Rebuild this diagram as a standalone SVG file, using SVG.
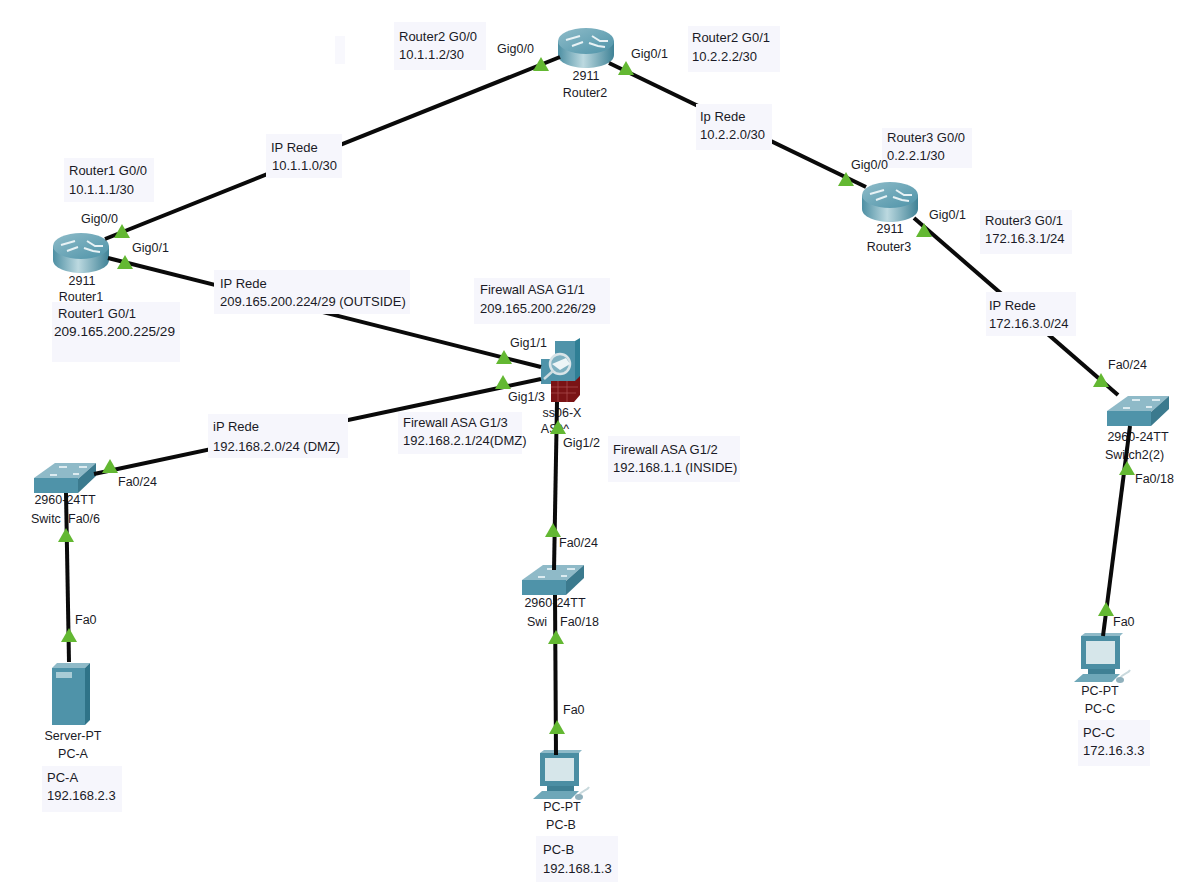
<svg xmlns="http://www.w3.org/2000/svg" width="1200" height="892" viewBox="0 0 1200 892">
<style>
text{font-family:"Liberation Sans",Arial,sans-serif;font-size:12.5px;fill:#1a1a26}
#labels text{font-size:13px}
.box{fill:#f6f6fc}
.c{text-anchor:middle}
.link{stroke:#0a0a0a;stroke-width:4;fill:none;stroke-linecap:butt}
.tri{fill:#63b832}
</style>
<defs>
<linearGradient id="rg" x1="0" x2="1" y1="0" y2="0"><stop offset="0" stop-color="#4d8fa3"/><stop offset=".45" stop-color="#bcd9e0"/><stop offset="1" stop-color="#3f8296"/></linearGradient>
<linearGradient id="rt" x1="0" x2="1" y1="0" y2="1"><stop offset="0" stop-color="#8fbcc9"/><stop offset="1" stop-color="#4e93a8"/></linearGradient>
<g id="router">
<path d="M-28,-6V8C-28,16 -14,21 0,21S28,16 28,8V-6Z" fill="url(#rg)"/>
<ellipse cx="0" cy="-6" rx="28" ry="13" fill="url(#rt)"/>
<path d="M-20,-7L-6,-11M-14,-1L-3,-5M6,-11L14,-6L22,-6M3,-4L12,-1L19,0" stroke="#e8f2f5" stroke-width="2" fill="none"/>
</g>
<g id="switch">
<path d="M-31,-1L-10,-16H31L13,0Z" fill="#8fbac8"/>
<path d="M-31,-1H13V14H-31Z" fill="#4f93a9"/>
<path d="M13,0L31,-16V-3L13,14Z" fill="#3b7a8e"/>
<path d="M-15,-4h7M-6,-12h8M14,-12h8M8,-5h6" stroke="#dcebf0" stroke-width="2"/>
</g>
<g id="pc">
<path d="M-19,-24H20V9H-19Z" fill="#4b8ea3"/>
<path d="M20,-24L23,-27H-15L-19,-24Z" fill="#8fbac8"/>
<path d="M-14,-19H15V4H-14Z" fill="#d6e6ea"/>
<path d="M-12,9H15V14H-12Z" fill="#3f8094"/>
<path d="M-26,22L-17,14H20L12,22Z" fill="#6ea7b8"/>
<path d="M18,20C24,12 28,14 30,10" stroke="#c9d9dd" stroke-width="2" fill="none"/>
<ellipse cx="20" cy="20" rx="4" ry="3" fill="#8fb0bc"/>
</g>
<path id="tri" class="tri" d="M0,-8L8,6H-8Z"/>
</defs>
<rect width="1200" height="892" fill="#fff"/>
<rect x="335" y="36" width="10" height="28" fill="#f8f8fd"/>

<g id="node-router1"><use href="#router" x="81" y="252"/><text class="c" x="82" y="285">2911</text><text class="c" x="81" y="301">Router1</text></g>
<g id="node-router2"><use href="#router" x="586" y="47"/><text class="c" x="586" y="80">2911</text><text class="c" x="585" y="97">Router2</text></g>
<g id="node-router3"><use href="#router" x="890" y="201"/><text class="c" x="890" y="233">2911</text><text class="c" x="889" y="251">Router3</text></g>
<g id="node-fw">
<path d="M541,378V359L555,359V341L578,341L578,380L575,384H541Z" fill="#4f93a9"/>
<path d="M575,341L580,338V378L575,384Z" fill="#2f7f95"/>
<circle cx="560" cy="364" r="10" fill="#7fb1c1" stroke="#d9e4e8" stroke-width="2.5"/>
<path d="M552,364L566,358L570,364L560,370Z" fill="#eef5f7"/>
<path d="M553,371L544,379" stroke="#cfdce0" stroke-width="2.5"/>
<path d="M551,381H575L580,376V395L574,402H551Z" fill="#7a1315"/>
<path d="M551,387H578M551,393H576M558,381V402M567,381V402" stroke="#a8494b" stroke-width=".8"/>
<text class="c" x="562" y="417">ss06-X</text><text class="c" x="555" y="433">AS^^</text>
</g>
<g id="node-switch-a"><use href="#switch" x="65" y="479"/><text class="c" x="65" y="504">2960-24TT</text><text x="31" y="523">Switc</text></g>
<g id="node-switch-b"><use href="#switch" x="553" y="581"/><text class="c" x="555" y="607">2960-24TT</text><text x="527" y="626">Swi</text></g>
<g id="node-switch-c"><use href="#switch" x="1138" y="412"/><text class="c" x="1138" y="441">2960-24TT</text><text x="1105" y="459">Switch2(2)</text></g>
<g id="node-pca">
<path d="M52,668L57,663H90L85,668Z" fill="#8fbac8"/>
<path d="M52,668H85V725H52Z" fill="#4f93a9"/>
<path d="M85,668L90,663V720L85,725Z" fill="#2f7388"/>
<rect x="56" y="672" width="16" height="6" fill="#a9ccd6"/>
<text class="c" x="73" y="740">Server-PT</text><text class="c" x="73" y="758">PC-A</text>
</g>
<g id="node-pcb"><use href="#pc" x="559" y="777"/><text class="c" x="562" y="811">PC-PT</text><text class="c" x="561" y="829">PC-B</text></g>
<g id="node-pcc"><use href="#pc" x="1100" y="660"/><text class="c" x="1100" y="695">PC-PT</text><text class="c" x="1100" y="713">PC-C</text></g>

<g id="connectors">
<path class="link" d="M105,239L560,57"/>
<path class="link" d="M609,63L866,187"/>
<path class="link" d="M108,258L541,367"/>
<path class="link" d="M94,474L541,379"/>
<path class="link" d="M914,218L1118,395"/>
<path class="link" d="M557,402L554,570"/>
<path class="link" d="M66,493L69,662"/>
<path class="link" d="M555,595L556,755"/>
<path class="link" d="M1130,426L1103,636"/>
</g>

<g id="labels">
<g id="lbl-r2g00"><rect class="box" x="394" y="22" width="92" height="48"/><text x="399" y="41">Router2 G0/0</text><text x="399" y="59">10.1.1.2/30</text></g>
<g id="lbl-r2g01"><rect class="box" x="688" y="26" width="92" height="46"/><text x="692" y="42">Router2 G0/1</text><text x="692" y="61">10.2.2.2/30</text></g>
<g id="lbl-net1"><rect class="box" x="266" y="134" width="76" height="44"/><text x="271" y="152">IP Rede</text><text x="272" y="170">10.1.1.0/30</text></g>
<g id="lbl-net2"><rect class="box" x="696" y="104" width="76" height="46"/><text x="700" y="121">Ip Rede</text><text x="700" y="139">10.2.2.0/30</text></g>
<g id="lbl-r3g00"><rect class="box" x="882" y="128" width="90" height="40"/><text x="887" y="142">Router3 G0/0</text><text x="887" y="160">0.2.2.1/30</text></g>
<g id="lbl-r3g01"><rect class="box" x="980" y="210" width="92" height="44"/><text x="985" y="225">Router3 G0/1</text><text x="985" y="243">172.16.3.1/24</text></g>
<g id="lbl-r1g00"><rect class="box" x="64" y="158" width="90" height="44"/><text x="69" y="175">Router1 G0/0</text><text x="69" y="194">10.1.1.1/30</text></g>
<g id="lbl-r1g01"><rect class="box" x="52" y="302" width="128" height="60"/><text x="58" y="318">Router1 G0/1</text><text x="54" y="336" style="font-size:13.6px">209.165.200.225/29</text></g>
<g id="lbl-net3"><rect class="box" x="214" y="270" width="196" height="44"/><text x="220" y="288">IP Rede</text><text x="220" y="306">209.165.200.224/29 (OUTSIDE)</text></g>
<g id="lbl-fw11"><rect class="box" x="474" y="278" width="136" height="46"/><text x="480" y="294">Firewall ASA G1/1</text><text x="480" y="313">209.165.200.226/29</text></g>
<g id="lbl-net4"><rect class="box" x="986" y="292" width="90" height="44"/><text x="989" y="310">IP Rede</text><text x="989" y="328">172.16.3.0/24</text></g>
<g id="lbl-net5"><rect class="box" x="208" y="414" width="140" height="44"/><text x="213" y="431">iP Rede</text><text x="213" y="451">192.168.2.0/24 (DMZ)</text></g>
<g id="lbl-fw13"><rect class="box" x="398" y="412" width="124" height="42"/><text x="403" y="427">Firewall ASA G1/3</text><text x="403" y="445">192.168.2.1/24(DMZ)</text></g>
<g id="lbl-fw12"><rect class="box" x="608" y="436" width="132" height="46"/><text x="613" y="454">Firewall ASA G1/2</text><text x="613" y="472">192.168.1.1 (INSIDE)</text></g>
<g id="lbl-pca"><rect class="box" x="42" y="766" width="80" height="46"/><text x="47" y="782">PC-A</text><text x="47" y="800">192.168.2.3</text></g>
<g id="lbl-pcb"><rect class="box" x="536" y="836" width="82" height="46"/><text x="543" y="854">PC-B</text><text x="543" y="873">192.168.1.3</text></g>
<g id="lbl-pcc"><rect class="box" x="1078" y="720" width="72" height="46"/><text x="1083" y="737">PC-C</text><text x="1083" y="755">172.16.3.3</text></g>
</g>

<g id="ports">
<use href="#tri" x="122" y="232"/><use href="#tri" x="125" y="263"/>
<use href="#tri" x="541" y="65"/><use href="#tri" x="626" y="69"/>
<use href="#tri" x="846" y="180"/><use href="#tri" x="924" y="231"/>
<use href="#tri" x="504" y="358"/><use href="#tri" x="503" y="383"/>
<use href="#tri" x="558" y="428"/><use href="#tri" x="1101" y="381"/>
<use href="#tri" x="1127" y="469"/><use href="#tri" x="1106" y="610"/>
<use href="#tri" x="110" y="467"/><use href="#tri" x="66" y="536"/>
<use href="#tri" x="69" y="636"/><use href="#tri" x="553" y="531"/>
<use href="#tri" x="556" y="638"/><use href="#tri" x="557" y="728"/>
<text x="81" y="223">Gig0/0</text><text x="132" y="252">Gig0/1</text>
<text x="497" y="53">Gig0/0</text><text x="631" y="58">Gig0/1</text>
<text x="851" y="169">Gig0/0</text><text x="929" y="219">Gig0/1</text>
<text x="510" y="347">Gig1/1</text><text x="508" y="401">Gig1/3</text>
<text x="563" y="447">Gig1/2</text>
<text x="1108" y="369">Fa0/24</text><text x="1135" y="483">Fa0/18</text><text x="1113" y="626">Fa0</text>
<text x="118" y="486">Fa0/24</text><text x="68" y="523">Fa0/6</text><text x="75" y="624">Fa0</text>
<text x="559" y="547">Fa0/24</text><text x="560" y="626">Fa0/18</text><text x="563" y="714">Fa0</text>
</g>
</svg>
